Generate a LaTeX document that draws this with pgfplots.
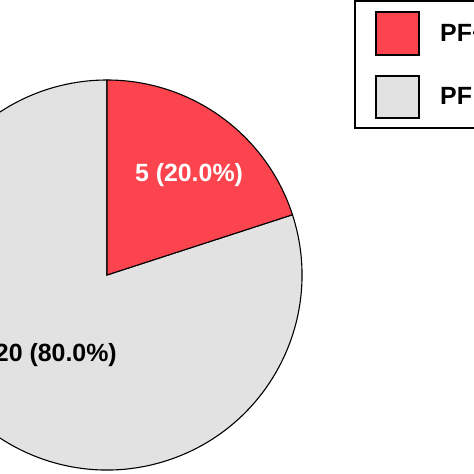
\documentclass[border=0pt]{standalone}
\usepackage{fontspec}
\setmainfont{Liberation Sans}
\usepackage{pgfplots}
\pgfplotsset{compat=1.18}
\usepackage{pgfplotstable}
\definecolor{pfred}{RGB}{252,68,78}
\definecolor{pfgrey}{RGB}{226,226,226}
% pie data: group, count
\pgfplotstableread{
label value
PF+ 5
PF- 20
}\piedata
\begin{document}
\begin{tikzpicture}
\pgfplotstablegetelem{0}{value}\of\piedata \let\va\pgfplotsretval
\pgfplotstablegetelem{1}{value}\of\piedata \let\vb\pgfplotsretval
\pgfmathsetmacro\angA{360*\va/(\va+\vb)}
\pgfmathsetmacro\pctA{100*\va/(\va+\vb)}
\pgfmathsetmacro\pctB{100*\vb/(\va+\vb)}
\pgfkeys{/pgf/number format/.cd, assume math mode=true}
\useasboundingbox (0,0) rectangle (474bp,474bp);
\clip (0,0) rectangle (474bp,474bp);
\begin{axis}[
scale only axis, width=474bp, height=474bp,
xmin=0, xmax=474, ymin=0, ymax=474,
hide axis, clip=false,
font=\fontsize{25}{30}\selectfont\bfseries
]
% slices, clockwise from the top
\filldraw[fill=pfgrey, draw=black, line width=1.1pt] (axis cs:107,199) -- ++(90-\angA:195bp)
  arc[start angle=90-\angA, end angle=-270, radius=195bp] -- cycle;
\filldraw[fill=pfred, draw=black, line width=1.1pt] (axis cs:107,199) -- ++(90:195bp)
  arc[start angle=90, end angle=90-\angA, radius=195bp] -- cycle;
% slice labels
\node[white, anchor=center, inner sep=0] at (axis cs:189,299)
  {\pgfmathprintnumber[fixed,precision=0,assume math mode=true]{\va} (\pgfmathprintnumber[fixed,fixed zerofill,precision=1,assume math mode=true]{\pctA}\%)};
\node[black, anchor=east, inner sep=0] at (axis cs:117,119)
  {\pgfmathprintnumber[fixed,precision=0,assume math mode=true]{\vb} (\pgfmathprintnumber[fixed,fixed zerofill,precision=1,assume math mode=true]{\pctB}\%)};
% legend
\draw[line width=1.5pt, fill=white] (axis cs:355,473) rectangle (axis cs:540,346);
\draw[fill=pfred, line width=1.1pt] (axis cs:376,462) rectangle (axis cs:419,419);
\draw[fill=pfgrey, line width=1.1pt] (axis cs:376,398) rectangle (axis cs:419,356);
\node[anchor=base west, inner sep=0] at (axis cs:440,432) {PF+};
\node[anchor=base west, inner sep=0] at (axis cs:440,369) {PF$-$};
\end{axis}
\end{tikzpicture}
\end{document}
